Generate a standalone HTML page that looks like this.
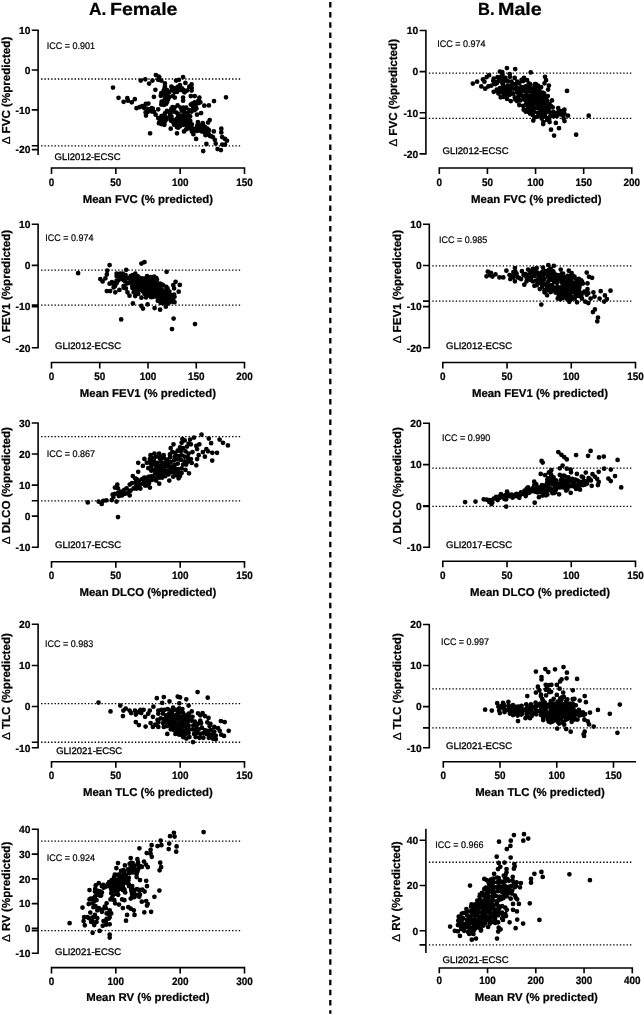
<!DOCTYPE html><html><head><meta charset="utf-8"><title>Figure</title><style>html,body{margin:0;padding:0;background:#fff}svg{display:block}text{font-family:"Liberation Sans",sans-serif;fill:#000;text-rendering:geometricPrecision}.b{font-weight:bold}.tk,.tx,.ax,.ay,.h{stroke:#000;stroke-width:.22px}.tk{font-weight:bold;font-size:10.3px}.tx{font-weight:bold;font-size:10.8px}.ax{font-weight:bold;font-size:11.4px}.ay{font-weight:bold;font-size:11.6px}.g{font-size:9.6px;stroke:#000;stroke-width:.32px}.i{font-size:9.6px;stroke:#000;stroke-width:.2px}.h{font-weight:bold;font-size:17.5px}.l{stroke:#000;stroke-width:1.6;fill:none}.d{stroke:#000;stroke-width:1.3;stroke-dasharray:1.4 1.95;fill:none}</style></head><body>
<svg width="644" height="1015" viewBox="0 0 644 1015">
<rect width="644" height="1015" fill="#fff"/>
<line x1="330.3" y1="1.9" x2="330.3" y2="1013.8" stroke="#000" stroke-width="2.3" stroke-dasharray="5.5 4.685"/>
<text class="h" y="15.1"><tspan x="89" textLength="17.3" lengthAdjust="spacingAndGlyphs">A.</tspan> <tspan x="110" textLength="67.5" lengthAdjust="spacingAndGlyphs">Female</tspan></text>
<text class="h" y="15.1"><tspan x="478" textLength="16.5" lengthAdjust="spacingAndGlyphs">B.</tspan> <tspan x="498" textLength="43.8" lengthAdjust="spacingAndGlyphs">Male</tspan></text>
<g>
<path class="l" d="M38.10 29.50V155.00M31.80 30.30H38.10M31.80 70.07H38.10M31.80 109.83H38.10M31.80 149.60H38.10M31.80 145.82H38.10M50.70 168.00H245.30M51.50 168.00V174.00M115.83 168.00V174.00M180.17 168.00V174.00M244.50 168.00V174.00"/>
<path class="d" d="M41.10 79.01H241.60"/>
<path class="d" d="M41.10 145.82H241.60"/>
<text class="tk" text-anchor="end" x="30.50" y="34.10">10</text>
<text class="tk" text-anchor="end" x="30.50" y="73.87">0</text>
<text class="tk" text-anchor="end" x="30.50" y="113.63">-10</text>
<text class="tk" text-anchor="end" x="30.50" y="153.40">-20</text>
<text class="tx" text-anchor="middle" transform="translate(51.50 185.50) scale(.92 1)">0</text>
<text class="tx" text-anchor="middle" transform="translate(115.83 185.50) scale(.92 1)">50</text>
<text class="tx" text-anchor="middle" transform="translate(180.17 185.50) scale(.92 1)">100</text>
<text class="tx" text-anchor="middle" transform="translate(244.50 185.50) scale(.92 1)">150</text>
<text class="ay" text-anchor="middle" transform="translate(9.80 90.55) rotate(-90)"><tspan font-weight="normal">Δ</tspan> FVC (%predicted)</text>
<text class="ax" text-anchor="middle" x="147.90" y="202.60">Mean FVC (% predicted)</text>
<text class="i" x="46.80" y="48.90" textLength="48.2" lengthAdjust="spacingAndGlyphs">ICC = 0.901</text>
<text class="g" x="54.50" y="159.90" textLength="66" lengthAdjust="spacingAndGlyphs">GLI2012-ECSC</text>
<path d="M113.0 87.5h0M118.5 97.8h0M123.6 101.8h0M127.3 98.2h0M128.0 100.7h0M131.8 102.3h0M134.8 99.2h0M140.7 80.5h0M145.3 79.3h0M149.1 83.6h0M152.5 80.5h0M155.9 75.1h0M158.7 76.6h0M158.2 79.8h0M161.3 80.5h0M155.4 89.8h0M153.9 96.8h0M164.9 83.3h0M164.9 86.0h0M136.5 108.2h0M139.6 107.2h0M142.2 106.1h0M145.8 103.8h0M148.4 103.5h0M146.6 108.5h0M149.7 109.3h0M152.8 108.5h0M146.0 115.5h0M152.0 111.6h0M155.6 114.7h0M158.2 109.3h0M161.3 93.0h0M163.7 90.6h0M166.8 89.8h0M161.3 95.3h0M165.2 96.1h0M167.5 93.7h0M171.4 86.7h0M171.7 89.8h0M168.3 98.4h0M166.8 101.5h0M164.4 103.0h0M161.3 104.6h0M176.1 80.5h0M178.9 79.8h0M183.1 77.1h0M185.4 82.9h0M180.0 85.2h0M177.6 88.3h0M180.7 89.8h0M174.5 92.2h0M173.0 96.1h0M191.6 84.4h0M189.3 86.7h0M187.0 90.6h0M183.9 91.4h0M191.6 90.6h0M183.1 97.6h0M183.1 100.7h0M190.8 96.1h0M194.7 96.1h0M199.4 97.6h0M194.7 102.3h0M190.8 104.6h0M193.2 106.9h0M198.6 103.0h0M177.6 105.4h0M174.5 107.7h0M171.4 108.5h0M180.7 107.7h0M168.3 111.6h0M165.2 113.1h0M162.9 115.5h0M160.6 117.8h0M159.8 120.9h0M161.3 124.0h0M164.4 124.8h0M170.7 117.8h0M173.0 121.7h0M176.9 118.6h0M180.7 119.3h0M183.9 116.2h0M186.2 118.6h0M187.7 114.7h0M189.3 110.0h0M186.2 107.7h0M191.6 111.6h0M194.7 110.0h0M197.0 114.7h0M183.9 123.2h0M187.0 124.8h0M190.1 123.2h0M191.6 127.1h0M180.0 126.3h0M176.9 127.1h0M170.7 128.7h0M197.8 124.0h0M183.3 89.8h0M174.8 97.6h0M163.1 93.0h0M167.0 95.3h0M164.7 99.2h0M200.4 102.3h0M204.3 105.7h0M208.9 105.4h0M214.0 101.0h0M226.0 97.3h0M161.6 101.5h0M166.2 103.8h0M194.9 105.4h0M201.1 113.1h0M181.7 110.8h0M177.9 113.9h0M173.2 111.6h0M185.6 116.2h0M183.3 118.6h0M172.4 119.3h0M188.7 117.8h0M190.3 120.9h0M209.7 120.1h0M208.1 122.5h0M202.7 123.2h0M197.3 125.6h0M162.3 120.1h0M179.4 123.2h0M183.3 124.8h0M187.2 127.9h0M200.4 127.1h0M205.0 127.1h0M207.4 128.7h0M221.3 128.7h0M195.7 128.7h0M150.1 133.3h0M147.7 111.9h0M165.4 120.2h0M177.0 133.3h0M168.2 117.5h0M174.7 122.1h0M170.1 113.7h0M180.3 115.6h0M182.2 123.0h0M185.0 120.2h0M184.0 112.8h0M189.6 127.7h0M185.9 129.6h0M184.0 131.4h0M194.3 130.5h0M193.4 134.2h0M196.1 138.9h0M203.6 128.6h0M206.4 130.5h0M201.7 131.4h0M208.3 133.3h0M205.5 135.2h0M210.1 136.1h0M213.8 131.4h0M212.9 137.0h0M214.8 139.8h0M221.3 132.4h0M222.2 137.0h0M225.0 138.9h0M226.9 140.7h0M215.7 143.5h0M206.4 143.9h0M222.2 144.5h0M225.0 144.5h0M217.6 149.1h0M220.9 150.1h0M203.2 151.0h0M159.3 77.3h0M144.0 107.8h0M151.8 108.1h0M154.0 111.8h0M160.8 95.8h0M164.5 88.5h0M164.9 89.6h0M161.2 93.4h0M166.3 97.4h0M169.2 92.4h0M173.7 88.1h0M167.8 99.9h0M164.2 101.7h0M167.1 102.0h0M163.5 104.8h0M177.7 86.8h0M176.8 90.4h0M182.7 90.3h0M177.2 91.8h0M191.7 88.2h0M184.6 92.3h0M192.3 103.5h0M192.4 104.7h0M195.6 106.5h0M198.0 101.2h0M172.5 107.2h0M167.0 110.8h0M164.6 116.0h0M161.4 116.2h0M158.3 118.2h0M158.9 123.2h0M162.8 123.8h0M171.4 116.3h0M173.6 123.1h0M176.1 120.9h0M178.2 120.2h0M182.8 118.8h0M184.7 118.0h0M190.2 116.3h0M188.4 111.9h0M183.4 107.7h0M192.7 110.3h0M196.4 108.6h0M185.7 121.4h0M187.8 122.9h0M191.9 124.3h0M189.0 128.3h0M178.1 127.7h0M197.9 122.1h0M181.9 88.4h0M165.4 91.4h0M169.3 97.0h0M166.9 98.3h0M198.9 100.3h0M161.5 103.1h0M164.8 104.5h0M194.3 107.4h0M183.8 111.2h0M176.4 112.5h0M173.5 109.7h0M185.9 118.0h0M181.8 116.7h0M171.0 120.7h0M186.3 117.8h0M189.3 122.5h0M203.2 124.9h0M199.7 125.1h0M160.6 120.9h0M177.6 123.2h0M184.1 122.2h0M187.7 125.4h0M197.8 126.2h0M202.9 126.5h0M208.9 130.2h0M197.2 130.9h0M145.6 112.4h0M164.8 121.7h0M166.4 119.4h0M174.0 124.6h0M170.9 111.8h0M178.1 116.9h0M184.2 124.0h0M183.5 119.1h0M186.0 113.4h0M190.3 126.0h0M186.9 126.8h0M191.9 131.6h0M203.1 130.8h0M207.0 128.5h0M199.4 130.3h0M206.4 134.0h0M204.8 132.9h0M209.0 134.7h0M210.8 136.0h0" stroke="#000" stroke-width="4.75" stroke-linecap="round" fill="none"/>
</g>
<g>
<path class="l" d="M38.10 223.40V348.60M31.80 224.20H38.10M31.80 265.40H38.10M31.80 306.60H38.10M31.80 347.80H38.10M31.80 305.16H38.10M50.70 362.50H245.30M51.50 362.50V368.50M99.75 362.50V368.50M148.00 362.50V368.50M196.25 362.50V368.50M244.50 362.50V368.50"/>
<path class="d" d="M41.10 270.14H241.60"/>
<path class="d" d="M41.10 305.16H241.60"/>
<text class="tk" text-anchor="end" x="30.50" y="228.00">10</text>
<text class="tk" text-anchor="end" x="30.50" y="269.20">0</text>
<text class="tk" text-anchor="end" x="30.50" y="310.40">-10</text>
<text class="tk" text-anchor="end" x="30.50" y="351.60">-20</text>
<text class="tx" text-anchor="middle" transform="translate(51.50 380.00) scale(.92 1)">0</text>
<text class="tx" text-anchor="middle" transform="translate(99.75 380.00) scale(.92 1)">50</text>
<text class="tx" text-anchor="middle" transform="translate(148.00 380.00) scale(.92 1)">100</text>
<text class="tx" text-anchor="middle" transform="translate(196.25 380.00) scale(.92 1)">150</text>
<text class="tx" text-anchor="middle" transform="translate(244.50 380.00) scale(.92 1)">200</text>
<text class="ay" text-anchor="middle" transform="translate(9.80 286.60) rotate(-90)"><tspan font-weight="normal">Δ</tspan> FEV1 (%predicted)</text>
<text class="ax" text-anchor="middle" x="147.90" y="397.10">Mean FEV1 (% predicted)</text>
<text class="i" x="45.20" y="241.40" textLength="48.2" lengthAdjust="spacingAndGlyphs">ICC = 0.974</text>
<text class="g" x="55.00" y="348.90" textLength="66" lengthAdjust="spacingAndGlyphs">GLI2012-ECSC</text>
<path d="M78.1 273.2h0M109.6 265.1h0M107.3 270.5h0M106.8 274.4h0M100.3 279.1h0M102.6 281.4h0M105.4 278.3h0M109.6 283.7h0M111.9 282.2h0M106.8 291.0h0M110.1 291.0h0M116.6 273.6h0M116.6 276.0h0M120.5 275.2h0M122.8 273.6h0M126.2 269.8h0M141.4 263.5h0M144.5 262.0h0M166.6 271.8h0M115.0 283.0h0M116.6 280.6h0M119.7 278.3h0M115.0 286.1h0M115.3 292.3h0M119.4 289.9h0M123.6 286.1h0M125.9 288.4h0M127.5 292.3h0M129.5 295.7h0M125.1 276.7h0M128.2 278.3h0M130.6 276.0h0M133.7 275.2h0M125.1 281.4h0M128.2 283.0h0M131.3 280.6h0M133.7 279.1h0M136.8 278.3h0M139.1 277.5h0M142.2 278.3h0M145.3 278.3h0M147.6 277.5h0M150.7 279.1h0M154.6 278.3h0M157.0 279.8h0M134.4 283.0h0M137.5 283.7h0M140.7 282.2h0M143.8 283.0h0M146.9 282.2h0M150.0 283.0h0M153.1 283.0h0M156.2 283.0h0M132.1 286.1h0M135.2 287.6h0M138.3 286.8h0M141.4 286.1h0M144.5 286.8h0M147.6 286.1h0M150.7 286.8h0M153.9 286.1h0M157.0 285.3h0M160.1 283.7h0M163.2 285.3h0M166.3 286.8h0M135.2 291.5h0M138.3 290.7h0M141.4 289.9h0M144.5 290.7h0M147.6 289.9h0M150.7 290.7h0M153.9 289.9h0M157.0 289.2h0M160.1 288.4h0M135.2 296.1h0M138.3 293.8h0M141.4 297.7h0M144.5 293.8h0M147.6 294.6h0M150.7 293.8h0M153.9 293.8h0M157.0 293.0h0M160.1 292.3h0M163.2 291.5h0M166.3 292.3h0M169.4 291.5h0M146.9 296.1h0M157.0 296.9h0M160.1 296.1h0M163.2 295.4h0M166.3 296.1h0M169.4 295.4h0M160.1 299.3h0M163.2 300.0h0M166.3 299.3h0M169.4 300.0h0M163.2 303.1h0M166.3 304.7h0M169.4 302.4h0M132.9 303.4h0M141.4 305.9h0M143.0 308.6h0M147.6 304.4h0M154.6 308.1h0M160.1 309.7h0M121.2 319.4h0M155.4 284.4h0M175.6 281.8h0M179.8 284.9h0M173.3 285.2h0M174.1 288.3h0M178.7 291.7h0M152.3 287.5h0M155.4 288.3h0M161.6 289.8h0M164.8 290.6h0M151.6 292.2h0M160.9 293.7h0M164.0 293.7h0M153.1 296.8h0M159.3 297.6h0M162.4 297.6h0M165.5 297.6h0M171.7 295.3h0M174.1 294.5h0M157.8 300.7h0M161.6 301.5h0M164.8 302.3h0M167.9 300.7h0M173.3 298.4h0M172.5 301.5h0M173.6 318.6h0M195.0 324.0h0M172.0 329.0h0M113.0 283.6h0M118.0 274.4h0M120.3 273.5h0M121.2 274.9h0M116.6 283.3h0M118.3 280.6h0M121.8 279.0h0M113.6 287.4h0M123.8 287.7h0M125.6 275.0h0M130.2 278.5h0M132.5 275.0h0M135.3 273.7h0M123.9 280.3h0M126.8 283.6h0M131.0 282.7h0M135.2 278.6h0M136.9 279.9h0M137.6 276.0h0M141.3 280.2h0M144.1 279.6h0M147.1 276.0h0M150.8 277.1h0M154.2 276.7h0M156.4 278.2h0M134.1 281.5h0M138.0 285.5h0M142.5 282.8h0M145.4 283.6h0M147.7 280.2h0M151.1 281.4h0M154.3 284.1h0M154.9 281.5h0M132.4 288.1h0M133.8 288.5h0M138.1 288.7h0M139.7 285.1h0M144.1 284.6h0M146.8 287.5h0M150.1 285.3h0M155.1 287.4h0M159.2 285.3h0M161.7 284.3h0M161.3 285.0h0M167.5 288.4h0M133.7 292.3h0M136.9 289.6h0M142.9 291.4h0M146.4 290.4h0M148.4 291.5h0M152.4 290.5h0M154.8 291.5h0M157.3 287.6h0M160.5 286.4h0M137.2 292.5h0M145.7 292.9h0M148.2 292.7h0M149.1 293.7h0M155.6 294.8h0M156.6 294.8h0M160.6 290.4h0M161.9 292.5h0M168.3 292.7h0M169.1 293.3h0M146.0 297.4h0M155.7 295.3h0M158.1 296.0h0M162.2 293.5h0M167.3 294.5h0M170.3 297.3h0M161.1 301.2h0M164.7 301.5h0M167.0 301.1h0M169.2 301.8h0M164.8 302.1h0M165.8 306.7h0M167.8 303.6h0M153.9 283.1h0M151.3 289.2h0M153.3 288.0h0M160.1 290.5h0M163.3 292.0h0M153.1 293.5h0M159.4 293.4h0M164.7 295.5h0M151.1 297.2h0M161.2 297.2h0M160.6 296.5h0M166.4 296.1h0M173.1 296.9h0M173.2 296.3h0M159.4 299.5h0M160.5 302.8h0M165.8 303.5h0M168.2 302.5h0M174.5 296.8h0M174.5 302.2h0" stroke="#000" stroke-width="4.75" stroke-linecap="round" fill="none"/>
</g>
<g>
<path class="l" d="M38.10 422.20V548.00M31.80 423.00H38.10M31.80 454.05H38.10M31.80 485.10H38.10M31.80 516.15H38.10M31.80 547.20H38.10M31.80 500.78H38.10M50.70 561.80H245.30M51.50 561.80V567.80M115.83 561.80V567.80M180.17 561.80V567.80M244.50 561.80V567.80"/>
<path class="d" d="M41.10 436.66H241.60"/>
<path class="d" d="M41.10 500.78H241.60"/>
<text class="tk" text-anchor="end" x="30.50" y="426.80">30</text>
<text class="tk" text-anchor="end" x="30.50" y="457.85">20</text>
<text class="tk" text-anchor="end" x="30.50" y="488.90">10</text>
<text class="tk" text-anchor="end" x="30.50" y="519.95">0</text>
<text class="tk" text-anchor="end" x="30.50" y="551.00">-10</text>
<text class="tx" text-anchor="middle" transform="translate(51.50 579.30) scale(.92 1)">0</text>
<text class="tx" text-anchor="middle" transform="translate(115.83 579.30) scale(.92 1)">50</text>
<text class="tx" text-anchor="middle" transform="translate(180.17 579.30) scale(.92 1)">100</text>
<text class="tx" text-anchor="middle" transform="translate(244.50 579.30) scale(.92 1)">150</text>
<text class="ay" text-anchor="middle" transform="translate(9.80 485.70) rotate(-90)"><tspan font-weight="normal">Δ</tspan> DLCO (%predicted)</text>
<text class="ax" text-anchor="middle" x="147.90" y="596.40">Mean DLCO (%predicted)</text>
<text class="i" x="46.80" y="456.80" textLength="48.2" lengthAdjust="spacingAndGlyphs">ICC = 0.867</text>
<text class="g" x="55.00" y="548.40" textLength="66" lengthAdjust="spacingAndGlyphs">GLI2017-ECSC</text>
<path d="M87.8 502.4h0M98.6 501.6h0M101.7 503.9h0M103.3 500.8h0M106.4 500.3h0M111.8 500.0h0M113.4 496.9h0M112.6 494.6h0M116.5 501.6h0M118.0 517.1h0M114.9 487.6h0M117.3 484.5h0M118.0 488.4h0M114.9 493.8h0M118.0 493.0h0M121.1 491.5h0M118.8 496.1h0M121.9 495.4h0M124.3 489.9h0M126.6 488.4h0M125.0 493.8h0M128.1 493.0h0M129.7 495.4h0M129.7 484.5h0M132.0 483.0h0M130.5 490.7h0M133.6 488.4h0M135.9 486.1h0M132.8 476.0h0M135.1 478.3h0M138.2 471.8h0M138.2 462.8h0M135.9 482.2h0M139.0 480.6h0M142.1 479.1h0M139.8 484.5h0M142.9 483.7h0M139.0 487.6h0M142.9 465.9h0M144.4 458.9h0M146.0 477.5h0M149.1 476.7h0M152.2 476.0h0M146.0 481.4h0M149.1 483.0h0M149.9 487.6h0M146.8 485.3h0M152.2 479.8h0M155.3 478.3h0M158.4 476.7h0M156.1 480.6h0M159.2 483.7h0M146.8 462.8h0M149.9 461.2h0M148.3 468.2h0M151.4 465.9h0M153.0 469.8h0M150.7 457.3h0M153.8 459.7h0M156.1 456.6h0M154.5 464.3h0M157.6 462.8h0M160.7 461.2h0M156.9 467.4h0M160.0 465.9h0M157.6 471.3h0M160.7 469.8h0M163.9 468.2h0M155.3 473.6h0M158.4 474.4h0M161.5 473.6h0M164.6 472.1h0M167.7 470.5h0M162.3 477.5h0M165.4 476.0h0M163.9 458.1h0M167.0 459.7h0M170.1 457.3h0M164.6 463.5h0M167.7 464.3h0M170.8 462.0h0M173.9 460.4h0M177.0 458.9h0M171.6 466.6h0M174.7 465.1h0M177.8 463.5h0M169.3 480.6h0M168.5 474.4h0M171.6 472.1h0M174.7 470.5h0M177.8 469.0h0M173.2 476.7h0M176.3 475.2h0M179.4 474.4h0M178.6 478.3h0M160.7 456.6h0M174.7 456.6h0M201.5 434.5h0M194.0 437.6h0M190.1 439.6h0M182.4 439.2h0M184.7 440.4h0M181.6 442.8h0M208.8 438.6h0M211.1 443.2h0M219.6 439.6h0M223.0 442.8h0M227.9 445.4h0M173.5 444.3h0M170.7 448.2h0M188.6 443.5h0M190.9 444.3h0M187.0 446.6h0M196.3 445.9h0M199.4 444.3h0M197.1 449.0h0M206.4 449.0h0M208.0 451.3h0M202.9 452.1h0M212.3 452.8h0M217.0 452.8h0M204.9 456.7h0M198.7 455.2h0M197.1 459.1h0M212.2 460.6h0M192.5 452.1h0M188.6 453.6h0M185.5 451.3h0M180.0 447.4h0M183.1 448.2h0M180.8 451.3h0M177.7 450.5h0M175.4 452.8h0M172.3 452.1h0M169.9 454.4h0M178.5 456.0h0M181.6 455.2h0M184.7 456.7h0M187.8 457.5h0M190.9 459.1h0M191.7 462.9h0M188.6 461.4h0M196.3 465.3h0M150.5 455.2h0M154.4 453.6h0M159.1 453.6h0M163.7 455.2h0M149.8 459.1h0M152.9 458.3h0M159.8 458.3h0M150.5 462.9h0M154.4 462.2h0M162.2 462.9h0M166.1 462.2h0M180.8 459.8h0M184.7 461.4h0M186.2 464.5h0M183.1 464.5h0M156.0 466.0h0M163.7 466.0h0M167.6 466.0h0M151.3 470.7h0M155.2 469.9h0M163.0 469.9h0M170.7 469.1h0M174.6 468.4h0M181.6 468.4h0M185.5 469.9h0M189.0 473.3h0M166.8 473.8h0M174.6 472.3h0M178.5 472.3h0M181.6 473.0h0M144.3 477.7h0M159.8 477.7h0M180.0 476.1h0M136.6 479.2h0M144.3 481.6h0M148.2 480.8h0M137.3 483.9h0M145.1 485.5h0M136.6 488.6h0M140.4 488.6h0" stroke="#000" stroke-width="4.75" stroke-linecap="round" fill="none"/>
</g>
<g>
<path class="l" d="M38.10 623.50V748.50M31.80 624.30H38.10M31.80 665.43H38.10M31.80 706.57H38.10M31.80 747.70H38.10M31.80 742.23H38.10M50.70 761.80H245.30M51.50 761.80V767.80M115.83 761.80V767.80M180.17 761.80V767.80M244.50 761.80V767.80"/>
<path class="d" d="M41.10 703.56H241.60"/>
<path class="d" d="M41.10 742.23H241.60"/>
<text class="tk" text-anchor="end" x="30.50" y="628.10">20</text>
<text class="tk" text-anchor="end" x="30.50" y="669.23">10</text>
<text class="tk" text-anchor="end" x="30.50" y="710.37">0</text>
<text class="tk" text-anchor="end" x="30.50" y="751.50">-10</text>
<text class="tx" text-anchor="middle" transform="translate(51.50 779.30) scale(.92 1)">0</text>
<text class="tx" text-anchor="middle" transform="translate(115.83 779.30) scale(.92 1)">50</text>
<text class="tx" text-anchor="middle" transform="translate(180.17 779.30) scale(.92 1)">100</text>
<text class="tx" text-anchor="middle" transform="translate(244.50 779.30) scale(.92 1)">150</text>
<text class="ay" text-anchor="middle" transform="translate(9.80 686.60) rotate(-90)"><tspan font-weight="normal">Δ</tspan> TLC (%predicted)</text>
<text class="ax" text-anchor="middle" x="147.90" y="796.40">Mean TLC (% predicted)</text>
<text class="i" x="45.00" y="646.50" textLength="48.2" lengthAdjust="spacingAndGlyphs">ICC = 0.983</text>
<text class="g" x="56.20" y="753.70" textLength="66" lengthAdjust="spacingAndGlyphs">GLI2021-ECSC</text>
<path d="M98.5 702.5h0M110.5 711.4h0M120.3 705.5h0M123.4 710.6h0M125.7 708.6h0M122.9 716.1h0M129.6 710.6h0M131.1 713.0h0M135.0 710.6h0M135.8 714.5h0M138.1 712.2h0M140.5 709.8h0M141.2 713.0h0M143.6 709.8h0M145.1 716.8h0M148.2 713.7h0M149.8 710.6h0M153.4 706.7h0M152.9 716.8h0M135.8 722.0h0M138.9 725.1h0M145.6 726.6h0M150.6 723.0h0M152.9 726.9h0M155.2 724.6h0M158.3 726.9h0M156.8 698.2h0M163.8 697.1h0M162.2 702.9h0M169.5 701.3h0M177.7 696.6h0M180.1 697.4h0M186.3 699.3h0M179.3 703.3h0M158.3 710.6h0M161.4 709.8h0M158.3 713.7h0M164.5 709.8h0M167.6 709.1h0M170.7 710.6h0M173.1 707.5h0M163.0 713.7h0M166.1 715.3h0M169.2 713.7h0M172.3 714.5h0M157.5 719.9h0M160.7 718.4h0M163.8 719.2h0M166.9 718.4h0M158.3 722.3h0M176.2 709.8h0M179.3 708.3h0M182.4 709.1h0M180.1 712.2h0M183.2 713.0h0M175.4 715.3h0M178.5 716.1h0M181.6 716.8h0M184.7 715.3h0M188.6 713.7h0M170.0 717.6h0M173.1 718.4h0M176.2 719.2h0M179.3 719.9h0M182.4 720.7h0M185.5 718.4h0M188.6 717.6h0M163.0 723.0h0M166.1 722.3h0M169.2 721.5h0M172.3 722.3h0M175.4 723.0h0M178.5 723.8h0M181.6 723.8h0M184.7 722.3h0M187.8 721.5h0M163.8 726.9h0M166.9 726.1h0M170.0 725.4h0M173.1 726.1h0M176.2 726.9h0M179.3 727.7h0M182.4 726.9h0M185.5 726.1h0M188.6 725.4h0M167.3 733.9h0M170.7 729.3h0M173.9 730.0h0M177.0 730.8h0M180.1 731.6h0M183.2 730.8h0M186.3 730.0h0M189.4 729.3h0M175.4 733.9h0M179.3 734.7h0M182.4 735.5h0M185.5 733.9h0M188.6 733.1h0M186.3 738.6h0M183.2 737.0h0M197.6 692.0h0M207.7 697.7h0M188.6 705.5h0M172.3 711.4h0M177.8 712.2h0M191.7 711.4h0M198.0 713.3h0M202.6 713.0h0M200.3 715.3h0M204.9 716.1h0M208.5 717.9h0M220.9 721.0h0M224.7 722.0h0M228.7 730.8h0M186.3 716.8h0M189.4 716.1h0M192.5 716.8h0M171.6 719.9h0M174.7 719.9h0M185.5 720.7h0M188.6 719.9h0M191.7 720.7h0M194.8 721.5h0M200.3 720.7h0M201.1 723.0h0M198.0 723.8h0M207.3 722.3h0M210.4 723.8h0M209.6 726.1h0M214.3 726.9h0M218.1 728.2h0M219.7 730.8h0M172.3 724.6h0M186.3 724.6h0M193.3 725.4h0M196.4 726.1h0M181.6 729.3h0M192.5 729.3h0M195.6 730.0h0M198.7 729.3h0M201.8 727.7h0M204.9 730.0h0M208.0 730.8h0M211.1 730.0h0M214.3 731.6h0M183.2 733.9h0M194.1 733.9h0M197.2 733.1h0M200.3 733.9h0M203.4 733.1h0M206.5 733.9h0M209.6 734.7h0M212.7 734.7h0M215.8 735.5h0M221.2 734.7h0M224.0 735.9h0M189.4 737.0h0M195.6 737.0h0M199.5 737.8h0M203.4 737.8h0M208.8 737.8h0M212.7 738.6h0M215.8 739.3h0M193.0 742.1h0" stroke="#000" stroke-width="4.75" stroke-linecap="round" fill="none"/>
</g>
<g>
<path class="l" d="M38.10 828.50V954.00M31.80 829.30H38.10M31.80 854.08H38.10M31.80 878.86H38.10M31.80 903.64H38.10M31.80 928.42H38.10M31.80 953.20H38.10M31.80 930.65H38.10M50.70 967.60H245.30M51.50 967.60V973.60M115.83 967.60V973.60M180.17 967.60V973.60M244.50 967.60V973.60"/>
<path class="d" d="M41.10 841.07H241.60"/>
<path class="d" d="M41.10 930.65H241.60"/>
<text class="tk" text-anchor="end" x="30.50" y="833.10">40</text>
<text class="tk" text-anchor="end" x="30.50" y="857.88">30</text>
<text class="tk" text-anchor="end" x="30.50" y="882.66">20</text>
<text class="tk" text-anchor="end" x="30.50" y="907.44">10</text>
<text class="tk" text-anchor="end" x="30.50" y="932.22">0</text>
<text class="tk" text-anchor="end" x="30.50" y="957.00">-10</text>
<text class="tx" text-anchor="middle" transform="translate(51.50 984.70) scale(.92 1)">0</text>
<text class="tx" text-anchor="middle" transform="translate(115.83 984.70) scale(.92 1)">100</text>
<text class="tx" text-anchor="middle" transform="translate(180.17 984.70) scale(.92 1)">200</text>
<text class="tx" text-anchor="middle" transform="translate(244.50 984.70) scale(.92 1)">300</text>
<text class="ay" text-anchor="middle" transform="translate(9.80 891.85) rotate(-90)"><tspan font-weight="normal">Δ</tspan> RV (%predicted)</text>
<text class="ax" text-anchor="middle" x="147.90" y="1001.10">Mean RV (% predicted)</text>
<text class="i" x="46.80" y="860.50" textLength="48.2" lengthAdjust="spacingAndGlyphs">ICC = 0.924</text>
<text class="g" x="55.00" y="954.90" textLength="66" lengthAdjust="spacingAndGlyphs">GLI2021-ECSC</text>
<path d="M69.6 923.2h0M82.5 907.6h0M84.1 917.0h0M83.6 921.1h0M84.8 925.3h0M89.5 890.1h0M89.5 899.4h0M88.7 904.1h0M90.3 912.6h0M88.7 918.0h0M91.1 921.9h0M92.6 898.6h0M92.6 903.3h0M93.4 907.2h0M92.6 917.3h0M94.9 914.9h0M97.3 918.0h0M96.5 921.9h0M94.2 925.0h0M92.6 932.8h0M99.6 930.9h0M109.7 934.7h0M109.7 937.5h0M95.7 885.4h0M98.8 883.1h0M94.9 891.6h0M98.0 890.9h0M96.5 894.8h0M99.6 894.0h0M101.9 892.4h0M101.1 895.5h0M96.5 900.2h0M98.8 908.0h0M97.3 910.3h0M101.9 911.8h0M105.8 908.0h0M109.7 910.3h0M106.6 913.4h0M111.2 913.4h0M106.6 903.3h0M101.9 886.2h0M105.0 887.0h0M108.1 886.2h0M109.7 917.3h0M106.6 918.8h0M103.5 921.1h0M105.8 921.9h0M102.7 925.8h0M109.7 924.3h0M111.2 889.3h0M111.2 893.2h0M112.8 895.5h0M110.5 899.4h0M114.3 900.2h0M115.1 903.3h0M119.0 904.5h0M122.9 908.0h0M122.1 899.4h0M124.4 900.2h0M128.3 907.2h0M130.7 908.7h0M133.8 910.3h0M127.1 914.9h0M126.0 920.7h0M134.5 914.9h0M114.3 883.1h0M117.5 882.3h0M120.6 883.1h0M123.7 882.3h0M126.8 883.1h0M113.6 887.0h0M116.7 887.0h0M119.8 887.0h0M122.9 886.2h0M114.3 890.9h0M117.5 891.6h0M118.2 894.8h0M124.4 889.3h0M125.2 892.4h0M129.1 886.2h0M132.2 886.2h0M131.4 890.9h0M134.5 890.1h0M137.6 889.3h0M140.0 890.1h0M133.8 893.2h0M136.1 894.8h0M130.7 898.6h0M134.5 897.1h0M140.0 894.8h0M144.6 891.6h0M147.0 886.2h0M141.8 901.7h0M146.2 901.0h0M147.7 904.1h0M147.0 905.6h0M144.3 912.3h0M151.1 911.8h0M154.4 896.8h0M159.4 890.6h0M146.2 880.8h0M140.0 880.0h0M173.9 832.8h0M174.6 836.6h0M170.0 836.2h0M160.7 840.5h0M161.4 845.2h0M157.5 846.0h0M169.2 843.6h0M168.7 849.1h0M176.6 846.4h0M176.2 851.7h0M151.6 845.2h0M150.6 849.8h0M146.7 853.0h0M150.6 853.7h0M151.8 856.8h0M139.4 848.3h0M130.7 858.1h0M137.4 859.2h0M138.1 862.3h0M144.0 861.5h0M145.9 864.6h0M147.8 867.2h0M160.2 862.7h0M161.1 867.2h0M159.6 870.3h0M118.0 863.0h0M116.4 868.2h0M124.9 865.4h0M129.6 863.8h0M132.7 863.0h0M134.3 866.1h0M140.5 866.1h0M138.1 869.3h0M121.1 870.8h0M124.2 871.6h0M128.0 869.3h0M131.1 868.5h0M135.0 870.0h0M114.8 874.7h0M118.7 874.7h0M121.8 875.5h0M125.7 874.7h0M129.6 873.1h0M132.7 872.4h0M136.6 873.9h0M136.6 877.0h0M111.7 880.1h0M114.8 879.3h0M118.7 879.3h0M121.8 879.3h0M125.7 878.6h0M128.8 877.8h0M111.0 884.0h0M103.2 884.8h0M203.6 832.0h0M133.1 895.6h0M87.3 917.1h0M92.6 922.1h0M90.8 898.7h0M93.9 901.6h0M95.5 906.2h0M92.1 919.6h0M94.3 916.7h0M95.2 888.9h0M99.1 892.6h0M95.0 896.7h0M100.0 895.7h0M99.9 891.4h0M98.8 894.9h0M98.9 908.9h0M102.4 909.6h0M104.8 906.6h0M109.2 914.7h0M107.8 884.0h0M108.8 918.5h0M106.3 924.5h0M112.7 888.9h0M111.7 898.0h0M114.7 885.8h0M115.6 880.1h0M123.0 883.1h0M123.5 880.0h0M126.3 881.5h0M111.9 887.6h0M116.8 884.7h0M119.3 888.9h0M122.1 888.8h0M115.8 891.7h0M116.8 894.1h0M122.8 890.0h0M128.7 884.1h0M131.2 889.3h0M137.0 889.0h0M139.4 890.8h0M142.3 889.6h0M132.4 895.5h0M134.1 895.2h0M131.7 897.8h0M139.2 896.8h0M137.5 864.1h0M131.2 862.8h0M130.6 863.1h0M132.7 867.2h0M141.8 866.9h0M138.7 867.9h0M123.0 870.5h0M123.4 870.0h0M130.2 868.1h0M131.3 866.7h0M133.2 870.4h0M116.3 874.8h0M119.4 875.9h0M124.0 873.3h0M129.0 871.2h0M133.5 870.0h0M137.4 871.4h0M114.1 877.1h0M117.4 880.5h0M120.6 876.8h0M124.0 877.1h0M128.4 880.3h0M109.1 882.2h0M103.7 887.7h0M132.0 894.0h0" stroke="#000" stroke-width="4.75" stroke-linecap="round" fill="none"/>
</g>
<g>
<path class="l" d="M425.90 29.70V154.70M419.60 30.50H425.90M419.60 71.63H425.90M419.60 112.77H425.90M419.60 153.90H425.90M419.60 118.32H425.90M438.50 168.00H632.60M439.30 168.00V174.00M487.43 168.00V174.00M535.55 168.00V174.00M583.67 168.00V174.00M631.80 168.00V174.00"/>
<path class="d" d="M428.90 73.11H632.90"/>
<path class="d" d="M428.90 118.32H632.90"/>
<text class="tk" text-anchor="end" x="418.30" y="34.30">10</text>
<text class="tk" text-anchor="end" x="418.30" y="75.43">0</text>
<text class="tk" text-anchor="end" x="418.30" y="116.57">-10</text>
<text class="tk" text-anchor="end" x="418.30" y="157.70">-20</text>
<text class="tx" text-anchor="middle" transform="translate(439.30 185.50) scale(.92 1)">0</text>
<text class="tx" text-anchor="middle" transform="translate(487.43 185.50) scale(.92 1)">50</text>
<text class="tx" text-anchor="middle" transform="translate(535.55 185.50) scale(.92 1)">100</text>
<text class="tx" text-anchor="middle" transform="translate(583.67 185.50) scale(.92 1)">150</text>
<text class="tx" text-anchor="middle" transform="translate(631.80 185.50) scale(.92 1)">200</text>
<text class="ay" text-anchor="middle" transform="translate(396.60 92.80) rotate(-90)"><tspan font-weight="normal">Δ</tspan> FVC (%predicted)</text>
<text class="ax" text-anchor="middle" x="536.30" y="202.60">Mean FVC (% predicted)</text>
<text class="i" x="437.20" y="46.50" textLength="48.2" lengthAdjust="spacingAndGlyphs">ICC = 0.974</text>
<text class="g" x="442.50" y="154.20" textLength="66" lengthAdjust="spacingAndGlyphs">GLI2012-ECSC</text>
<path d="M472.8 83.6h0M477.1 81.7h0M481.3 86.4h0M482.9 79.4h0M484.4 81.7h0M485.2 88.7h0M486.7 77.1h0M489.1 75.2h0M488.3 86.4h0M491.4 85.6h0M494.5 83.3h0M493.7 78.6h0M499.9 71.6h0M502.3 72.1h0M506.9 68.1h0M515.2 69.0h0M530.7 72.4h0M497.6 77.1h0M501.5 76.3h0M505.4 77.9h0M510.0 76.8h0M514.7 77.9h0M498.4 81.0h0M503.0 80.2h0M507.7 81.0h0M511.6 81.7h0M493.7 91.8h0M496.8 89.5h0M499.9 88.0h0M503.8 87.2h0M507.7 85.6h0M511.6 85.6h0M515.5 84.1h0M519.3 83.3h0M524.0 77.9h0M523.2 81.0h0M527.1 80.2h0M528.7 83.3h0M534.9 84.1h0M538.0 85.6h0M541.1 87.2h0M545.0 76.8h0M546.1 80.2h0M544.5 83.3h0M548.9 85.6h0M548.1 89.5h0M500.7 97.3h0M498.4 93.4h0M502.3 92.6h0M506.1 91.1h0M510.0 90.3h0M513.9 88.7h0M517.8 88.0h0M521.7 87.2h0M525.6 86.4h0M529.4 87.2h0M533.3 88.0h0M506.9 98.8h0M510.8 101.1h0M505.4 94.9h0M509.3 94.9h0M513.1 93.4h0M517.0 92.6h0M520.9 91.8h0M524.8 91.1h0M528.7 91.1h0M532.5 91.8h0M536.4 91.1h0M539.5 91.8h0M542.6 92.6h0M514.7 97.3h0M518.6 96.5h0M522.5 95.7h0M526.3 94.9h0M530.2 95.7h0M534.1 95.7h0M538.0 95.7h0M541.9 96.5h0M545.7 97.3h0M517.0 101.1h0M520.1 100.4h0M524.0 99.6h0M527.9 99.6h0M531.8 99.6h0M535.7 99.6h0M539.5 100.4h0M543.4 100.4h0M547.3 101.1h0M552.0 100.4h0M519.3 105.0h0M523.2 105.8h0M526.3 103.5h0M530.2 104.3h0M534.1 103.5h0M538.0 104.3h0M541.9 104.3h0M545.7 105.0h0M549.6 104.3h0M523.7 109.7h0M529.4 107.4h0M533.3 108.1h0M537.2 108.1h0M541.1 108.1h0M545.0 108.9h0M548.9 108.1h0M552.7 107.4h0M558.2 108.1h0M529.9 113.6h0M534.1 112.0h0M538.0 112.8h0M541.9 112.8h0M545.7 112.8h0M549.6 112.0h0M553.5 112.0h0M557.4 112.8h0M562.0 111.2h0M564.4 109.7h0M533.3 120.6h0M537.2 116.7h0M541.1 115.9h0M545.0 116.7h0M550.4 115.9h0M555.1 115.9h0M560.5 114.3h0M543.4 122.1h0M547.3 119.8h0M549.6 122.1h0M555.8 122.9h0M563.6 118.2h0M528.7 112.0h0M567.0 90.9h0M588.7 115.7h0M576.1 134.7h0M554.1 135.5h0M551.0 129.7h0M559.0 128.2h0M543.2 124.1h0M564.5 121.0h0M568.0 115.7h0M562.6 113.7h0M553.3 116.1h0M531.6 89.7h0M539.3 93.5h0M543.2 95.1h0M546.3 99.0h0M535.4 96.6h0M539.3 98.2h0M531.6 101.3h0M535.4 102.1h0M539.3 102.9h0M531.6 106.7h0M535.4 107.5h0M539.3 108.3h0M543.2 109.8h0M532.3 112.2h0M544.0 114.5h0M497.0 82.2h0M502.4 83.3h0M497.0 82.9h0M493.2 80.8h0M498.6 78.6h0M502.5 74.2h0M503.9 77.6h0M509.7 74.0h0M498.7 79.0h0M504.4 78.5h0M505.0 81.0h0M511.6 84.2h0M500.7 90.6h0M503.7 88.9h0M507.2 87.3h0M511.7 88.0h0M517.8 83.0h0M517.2 81.5h0M521.6 79.8h0M530.0 84.2h0M535.8 84.2h0M539.4 89.3h0M497.8 91.4h0M502.3 90.0h0M505.6 93.3h0M510.9 88.9h0M515.7 88.4h0M519.0 89.6h0M521.6 89.2h0M525.1 88.0h0M528.5 88.6h0M534.6 85.4h0M503.3 96.8h0M508.6 92.7h0M511.2 93.7h0M517.3 90.4h0M518.7 93.2h0M526.4 88.9h0M526.3 90.4h0M534.5 94.0h0M536.6 88.5h0M540.0 94.5h0M544.1 93.3h0M515.3 99.6h0M520.7 94.4h0M523.6 97.5h0M526.3 96.7h0M532.6 95.8h0M535.8 94.6h0M536.5 96.5h0M543.5 95.8h0M547.8 96.1h0M519.0 100.1h0M518.3 98.4h0M526.2 100.5h0M526.7 101.0h0M533.1 101.8h0M533.8 99.4h0M541.0 97.9h0M541.7 101.6h0M544.4 101.1h0M527.3 105.5h0M527.6 104.1h0M532.5 105.7h0M538.9 106.0h0M543.6 105.7h0M546.8 102.3h0M548.1 104.7h0M527.8 108.8h0M531.7 110.5h0M538.2 106.7h0M542.8 107.8h0M544.2 110.2h0M547.2 109.4h0M551.0 106.0h0M532.3 110.9h0M539.6 113.7h0M540.6 113.8h0M547.6 110.9h0M547.6 111.1h0M554.7 113.1h0M558.9 110.8h0M560.0 113.2h0M534.5 117.5h0M541.8 118.5h0M543.0 116.5h0M548.4 117.8h0M557.1 115.8h0M562.2 114.8h0M549.2 118.9h0M563.2 115.5h0M525.7 111.7h0M564.3 113.3h0M553.5 114.5h0M530.7 91.1h0M541.8 93.4h0M541.2 93.2h0M545.1 100.3h0M536.4 95.2h0M541.5 99.8h0M530.2 102.1h0M537.9 102.2h0M538.2 104.7h0M533.3 107.9h0M533.6 107.5h0M540.8 109.8h0M541.2 112.0h0M532.7 115.1h0M543.6 116.4h0M495.4 84.1h0M503.1 85.3h0" stroke="#000" stroke-width="4.75" stroke-linecap="round" fill="none"/>
</g>
<g>
<path class="l" d="M429.30 223.50V348.60M423.00 224.30H429.30M423.00 265.47H429.30M423.00 306.63H429.30M423.00 347.80H429.30M423.00 301.12H429.30M442.00 362.50H636.30M442.80 362.50V368.50M507.03 362.50V368.50M571.27 362.50V368.50M635.50 362.50V368.50"/>
<path class="d" d="M432.30 265.96H632.90"/>
<path class="d" d="M432.30 301.12H632.90"/>
<text class="tk" text-anchor="end" x="421.70" y="228.10">10</text>
<text class="tk" text-anchor="end" x="421.70" y="269.27">0</text>
<text class="tk" text-anchor="end" x="421.70" y="310.43">-10</text>
<text class="tk" text-anchor="end" x="421.70" y="351.60">-20</text>
<text class="tx" text-anchor="middle" transform="translate(442.80 380.00) scale(.92 1)">0</text>
<text class="tx" text-anchor="middle" transform="translate(507.03 380.00) scale(.92 1)">50</text>
<text class="tx" text-anchor="middle" transform="translate(571.27 380.00) scale(.92 1)">100</text>
<text class="tx" text-anchor="middle" transform="translate(635.50 380.00) scale(.92 1)">150</text>
<text class="ay" text-anchor="middle" transform="translate(401.00 286.65) rotate(-90)"><tspan font-weight="normal">Δ</tspan> FEV1 (%predicted)</text>
<text class="ax" text-anchor="middle" x="540.00" y="397.10">Mean FEV1 (% predicted)</text>
<text class="i" x="439.10" y="243.30" textLength="48.2" lengthAdjust="spacingAndGlyphs">ICC = 0.985</text>
<text class="g" x="446.00" y="348.90" textLength="66" lengthAdjust="spacingAndGlyphs">GLI2012-ECSC</text>
<path d="M486.5 276.3h0M487.8 271.7h0M490.9 272.8h0M492.4 276.6h0M495.5 274.3h0M499.4 277.4h0M503.3 277.4h0M506.4 270.7h0M509.5 275.1h0M510.3 279.0h0M514.9 268.1h0M513.4 272.0h0M516.5 273.5h0M514.9 281.3h0M513.4 277.4h0M518.0 277.4h0M521.9 271.2h0M523.5 275.1h0M521.1 279.0h0M524.3 284.7h0M526.6 281.3h0M528.1 269.6h0M530.5 272.8h0M526.6 277.4h0M532.8 268.9h0M536.7 268.1h0M535.1 272.0h0M531.2 277.4h0M534.3 275.9h0M532.8 281.3h0M535.9 280.5h0M542.9 267.6h0M542.1 272.0h0M548.3 265.0h0M553.8 265.8h0M550.7 268.9h0M547.5 272.0h0M551.4 273.5h0M541.3 304.6h0M539.0 273.5h0M539.8 277.4h0M538.2 281.3h0M536.7 285.2h0M539.8 289.1h0M543.7 275.1h0M544.4 279.0h0M542.9 282.8h0M542.1 286.7h0M544.4 290.6h0M547.1 295.3h0M548.3 276.6h0M549.1 280.5h0M547.5 284.4h0M546.8 288.3h0M549.9 290.6h0M553.0 277.4h0M553.8 281.3h0M552.2 285.2h0M553.0 289.1h0M557.6 275.1h0M558.4 279.0h0M556.9 282.8h0M557.6 286.7h0M556.9 290.6h0M560.7 269.6h0M563.1 273.5h0M562.3 278.2h0M561.5 282.1h0M562.3 286.0h0M561.5 289.8h0M560.7 294.5h0M568.8 270.7h0M571.6 273.2h0M567.7 275.9h0M567.0 279.7h0M566.2 283.6h0M567.0 287.5h0M566.2 291.4h0M565.4 295.3h0M572.4 277.4h0M571.6 281.3h0M570.8 285.2h0M571.6 289.1h0M570.8 292.9h0M570.1 296.8h0M569.3 301.8h0M576.3 279.7h0M576.3 283.6h0M575.5 287.5h0M576.3 291.4h0M575.5 295.3h0M574.7 298.4h0M579.4 282.8h0M579.4 287.5h0M579.4 292.2h0M579.4 296.0h0M577.0 302.3h0M563.9 296.8h0M560.7 297.6h0M554.5 273.5h0M556.1 278.2h0M586.7 272.6h0M589.0 276.8h0M592.1 277.8h0M587.5 283.4h0M578.9 278.8h0M582.0 281.4h0M610.5 290.7h0M600.7 291.2h0M604.9 295.4h0M606.9 299.0h0M604.2 301.6h0M599.6 298.5h0M593.4 292.3h0M594.5 296.5h0M590.6 298.5h0M587.5 289.2h0M588.3 293.1h0M584.4 291.5h0M581.3 295.4h0M582.0 298.5h0M585.1 301.6h0M588.3 303.1h0M594.9 309.4h0M592.9 312.0h0M598.0 317.6h0M597.3 321.3h0M545.6 273.6h0M549.4 274.4h0M553.3 275.2h0M557.2 276.8h0M565.0 279.1h0M568.8 278.3h0M568.8 283.0h0M572.7 283.0h0M545.6 284.5h0M549.4 285.3h0M561.1 287.6h0M565.0 288.4h0M568.8 287.6h0M572.7 287.6h0M547.1 290.0h0M554.9 290.7h0M558.8 291.5h0M562.6 292.3h0M566.5 293.1h0M574.3 292.3h0M578.9 289.2h0M558.8 295.4h0M566.5 296.9h0M560.3 299.3h0M567.3 299.3h0M571.2 299.3h0M490.0 275.0h0M511.0 276.2h0M515.4 271.5h0M514.1 274.9h0M512.9 275.6h0M516.6 275.4h0M525.3 274.0h0M519.2 278.1h0M531.7 270.6h0M527.2 274.8h0M532.8 270.7h0M537.6 272.7h0M528.7 277.3h0M533.6 274.3h0M530.9 280.1h0M537.9 279.4h0M542.4 273.6h0M548.6 270.2h0M545.6 271.1h0M549.1 273.2h0M538.9 275.2h0M538.7 276.1h0M538.2 283.4h0M534.4 285.8h0M545.3 273.9h0M542.3 279.7h0M540.4 282.0h0M542.4 284.1h0M544.5 292.3h0M547.8 274.7h0M550.1 278.5h0M547.5 282.5h0M547.8 290.3h0M550.8 292.0h0M552.7 280.0h0M556.3 280.7h0M550.7 286.2h0M551.1 288.0h0M555.2 275.7h0M560.3 279.5h0M554.4 281.5h0M555.3 287.8h0M558.1 292.0h0M561.6 274.2h0M562.4 280.0h0M563.5 284.3h0M560.6 288.2h0M559.2 291.4h0M558.7 294.4h0M572.1 274.8h0M569.1 277.4h0M566.8 277.8h0M564.1 282.9h0M568.8 287.6h0M567.9 292.4h0M564.1 296.1h0M574.5 276.7h0M569.8 280.5h0M568.5 284.8h0M570.7 290.4h0M568.6 293.1h0M568.5 296.0h0M570.0 300.2h0M577.9 279.6h0M574.1 283.7h0M574.3 289.8h0M577.4 289.2h0M577.0 294.2h0M573.2 297.4h0M577.9 284.6h0M579.6 285.6h0M577.9 291.8h0M576.5 296.1h0M564.2 295.1h0M562.8 297.9h0M553.3 271.4h0M554.1 279.9h0M580.9 280.2h0M582.9 283.5h0M586.8 294.7h0M582.6 292.8h0M579.3 294.8h0M543.6 274.1h0M547.9 272.4h0M553.5 277.2h0M559.6 277.0h0M564.4 277.1h0M570.4 279.1h0M570.0 280.5h0M572.0 284.3h0M547.2 284.2h0M550.3 286.7h0M559.8 289.1h0M567.8 287.6h0M567.1 289.9h0M571.4 289.9h0M545.4 290.3h0M555.5 292.6h0M561.2 291.7h0M564.6 292.0h0M566.4 290.7h0M572.3 291.3h0M578.3 291.2h0M559.7 293.2h0M568.6 297.4h0M557.7 298.4h0M566.7 297.9h0M572.1 297.5h0" stroke="#000" stroke-width="4.75" stroke-linecap="round" fill="none"/>
</g>
<g>
<path class="l" d="M429.30 422.50V548.00M423.00 423.30H429.30M423.00 464.60H429.30M423.00 505.90H429.30M423.00 547.20H429.30M423.00 506.40H429.30M442.00 561.20H636.30M442.80 561.20V567.20M507.03 561.20V567.20M571.27 561.20V567.20M635.50 561.20V567.20"/>
<path class="d" d="M432.30 468.07H632.90"/>
<path class="d" d="M432.30 506.40H632.90"/>
<text class="tk" text-anchor="end" x="421.70" y="427.10">20</text>
<text class="tk" text-anchor="end" x="421.70" y="468.40">10</text>
<text class="tk" text-anchor="end" x="421.70" y="509.70">0</text>
<text class="tk" text-anchor="end" x="421.70" y="551.00">-10</text>
<text class="tx" text-anchor="middle" transform="translate(442.80 578.70) scale(.92 1)">0</text>
<text class="tx" text-anchor="middle" transform="translate(507.03 578.70) scale(.92 1)">50</text>
<text class="tx" text-anchor="middle" transform="translate(571.27 578.70) scale(.92 1)">100</text>
<text class="tx" text-anchor="middle" transform="translate(635.50 578.70) scale(.92 1)">150</text>
<text class="ay" text-anchor="middle" transform="translate(401.00 485.85) rotate(-90)"><tspan font-weight="normal">Δ</tspan> DLCO (%predicted)</text>
<text class="ax" text-anchor="middle" x="540.00" y="595.80">Mean DLCO (% predicted)</text>
<text class="i" x="442.00" y="441.10" textLength="48.2" lengthAdjust="spacingAndGlyphs">ICC = 0.990</text>
<text class="g" x="446.00" y="548.40" textLength="66" lengthAdjust="spacingAndGlyphs">GLI2017-ECSC</text>
<path d="M465.1 502.0h0M475.5 501.6h0M483.7 499.3h0M486.8 499.7h0M489.9 500.0h0M492.3 502.4h0M491.5 503.9h0M493.8 498.5h0M496.1 496.9h0M497.7 500.0h0M500.0 497.7h0M501.6 495.7h0M503.9 497.7h0M506.2 499.3h0M505.5 495.1h0M507.0 491.5h0M506.2 506.6h0M509.3 496.1h0M511.7 494.6h0M512.5 497.7h0M514.8 496.1h0M516.3 493.8h0M517.9 496.6h0M520.2 495.1h0M521.0 492.3h0M523.3 493.8h0M525.7 496.1h0M525.7 492.0h0M528.0 493.0h0M528.8 489.9h0M528.0 487.3h0M531.1 490.7h0M532.6 488.4h0M534.2 485.3h0M534.2 481.7h0M535.0 491.5h0M537.3 492.3h0M536.5 489.2h0M538.9 487.6h0M541.2 486.8h0M543.5 486.1h0M542.0 489.9h0M544.3 492.3h0M547.4 494.6h0M545.8 489.2h0M538.9 497.2h0M534.7 502.7h0M541.6 460.9h0M542.7 462.5h0M540.7 473.9h0M545.1 475.2h0M551.3 470.2h0M548.2 478.3h0M548.9 482.2h0M548.2 486.1h0M550.5 488.4h0M551.3 475.2h0M552.8 479.8h0M553.6 484.5h0M554.4 489.2h0M552.0 491.5h0M558.3 452.1h0M561.4 454.8h0M564.2 457.1h0M566.8 459.4h0M576.1 455.1h0M590.6 450.9h0M588.1 455.8h0M599.0 457.4h0M603.8 456.6h0M617.6 459.9h0M562.6 465.6h0M559.8 468.3h0M550.5 473.4h0M566.8 468.7h0M570.7 469.5h0M571.0 472.3h0M576.9 473.9h0M585.8 472.6h0M598.7 471.8h0M604.1 468.7h0M610.8 469.5h0M615.0 476.0h0M608.4 478.5h0M610.8 481.1h0M621.2 487.4h0M559.8 474.9h0M562.2 478.0h0M565.3 476.5h0M568.4 477.3h0M553.6 477.3h0M550.5 479.6h0M554.4 481.1h0M592.5 474.2h0M594.8 476.5h0M597.1 478.8h0M598.7 481.9h0M597.9 485.0h0M588.6 478.0h0M590.9 480.4h0M591.7 485.8h0M583.1 477.3h0M584.7 481.1h0M587.0 483.5h0M583.1 485.0h0M572.3 478.8h0M575.4 479.6h0M578.5 481.1h0M580.8 482.7h0M535.8 485.8h0M538.1 490.5h0M542.0 485.0h0M546.6 484.3h0M551.3 483.5h0M556.0 482.7h0M558.3 484.3h0M560.6 481.9h0M563.0 483.5h0M565.3 481.1h0M567.6 482.7h0M569.9 481.1h0M573.0 482.7h0M547.4 489.7h0M556.7 487.4h0M559.8 487.4h0M563.0 487.4h0M566.1 486.6h0M569.2 485.8h0M572.3 485.8h0M575.4 485.0h0M578.5 485.0h0M543.5 494.3h0M555.2 492.0h0M559.1 494.3h0M566.1 490.5h0M570.7 492.8h0M576.1 488.9h0M580.0 489.7h0M489.3 501.9h0M490.6 502.4h0M495.5 498.4h0M498.0 497.0h0M498.3 498.6h0M500.2 496.1h0M500.9 494.1h0M504.5 499.1h0M506.2 497.5h0M506.8 494.2h0M508.4 494.4h0M512.4 496.4h0M513.3 496.3h0M513.1 495.3h0M515.9 495.8h0M519.3 497.8h0M518.5 495.1h0M520.2 493.7h0M521.8 493.4h0M526.0 494.1h0M524.6 490.6h0M529.5 492.6h0M530.6 490.6h0M526.7 488.5h0M532.6 491.0h0M533.4 490.0h0M535.1 483.7h0M535.5 490.0h0M537.0 490.6h0M538.2 489.9h0M540.6 487.3h0M543.1 486.9h0M545.3 485.7h0M540.3 489.5h0M542.6 493.1h0M546.0 495.3h0M546.5 490.8h0M547.3 479.8h0M549.9 483.5h0M546.7 485.5h0M549.6 490.1h0M551.1 476.8h0M551.1 480.3h0M554.0 482.6h0M556.0 489.5h0M552.5 493.2h0M548.9 472.4h0M561.9 476.4h0M563.9 475.7h0M568.7 479.3h0M553.6 479.0h0M549.5 478.2h0M555.9 480.3h0M589.7 479.2h0M588.9 480.4h0M581.7 476.6h0M583.1 481.5h0M586.7 482.0h0M585.0 484.5h0M571.9 480.5h0M573.7 480.1h0M577.0 480.3h0M579.1 482.6h0M536.3 484.3h0M538.9 492.0h0M543.7 485.6h0M547.2 482.4h0M552.9 484.1h0M554.8 483.9h0M556.6 484.3h0M560.7 480.4h0M562.1 482.2h0M564.2 482.3h0M566.8 484.3h0M568.3 481.4h0M574.4 481.7h0M545.8 490.4h0M555.3 486.7h0M561.0 486.1h0M562.8 485.8h0M564.6 487.6h0M570.9 486.0h0M570.8 486.1h0M574.7 486.7h0M579.2 486.7h0M542.4 495.5h0M554.0 493.0h0M567.4 489.2h0M576.3 487.4h0" stroke="#000" stroke-width="4.75" stroke-linecap="round" fill="none"/>
</g>
<g>
<path class="l" d="M429.30 623.70V748.50M423.00 624.50H429.30M423.00 665.57H429.30M423.00 706.63H429.30M423.00 747.70H429.30M423.00 727.86H429.30M442.50 761.80H636.00M443.30 761.80V767.80M500.03 761.80V767.80M556.77 761.80V767.80M613.50 761.80V767.80"/>
<path class="d" d="M432.30 688.97H632.90"/>
<path class="d" d="M432.30 727.86H632.90"/>
<text class="tk" text-anchor="end" x="421.70" y="628.30">20</text>
<text class="tk" text-anchor="end" x="421.70" y="669.37">10</text>
<text class="tk" text-anchor="end" x="421.70" y="710.43">0</text>
<text class="tk" text-anchor="end" x="421.70" y="751.50">-10</text>
<text class="tx" text-anchor="middle" transform="translate(443.30 779.30) scale(.92 1)">0</text>
<text class="tx" text-anchor="middle" transform="translate(500.03 779.30) scale(.92 1)">50</text>
<text class="tx" text-anchor="middle" transform="translate(556.77 779.30) scale(.92 1)">100</text>
<text class="tx" text-anchor="middle" transform="translate(613.50 779.30) scale(.92 1)">150</text>
<text class="ay" text-anchor="middle" transform="translate(401.00 686.70) rotate(-90)"><tspan font-weight="normal">Δ</tspan> TLC (%predicted)</text>
<text class="ax" text-anchor="middle" x="540.00" y="796.40">Mean TLC (% predicted)</text>
<text class="i" x="440.90" y="644.70" textLength="48.2" lengthAdjust="spacingAndGlyphs">ICC = 0.997</text>
<text class="g" x="446.00" y="748.90" textLength="66" lengthAdjust="spacingAndGlyphs">GLI2021-ECSC</text>
<path d="M485.1 709.7h0M491.8 710.5h0M497.2 703.2h0M498.3 706.6h0M499.1 710.5h0M499.8 713.1h0M503.7 704.3h0M503.7 708.1h0M504.5 712.0h0M508.4 701.9h0M508.4 705.8h0M509.2 709.7h0M509.9 713.6h0M513.0 705.0h0M513.0 708.9h0M513.8 712.8h0M513.0 715.1h0M517.7 706.6h0M517.7 710.5h0M518.5 714.3h0M518.0 721.0h0M521.6 705.8h0M522.4 709.7h0M522.4 713.6h0M526.2 704.3h0M527.0 708.1h0M527.0 712.0h0M527.0 715.9h0M525.5 718.2h0M527.3 696.0h0M530.9 704.3h0M531.7 708.1h0M531.7 712.0h0M531.7 715.9h0M530.1 718.2h0M535.6 702.7h0M536.3 706.6h0M536.3 710.5h0M536.3 714.3h0M535.9 692.6h0M537.9 686.7h0M539.4 690.3h0M541.0 694.5h0M535.9 671.6h0M541.5 677.1h0M541.5 679.4h0M545.3 669.0h0M548.3 672.1h0M555.0 669.3h0M563.5 667.0h0M566.9 672.7h0M561.6 679.4h0M560.1 681.4h0M566.6 678.3h0M545.7 684.8h0M546.7 688.3h0M549.2 690.3h0M551.1 691.8h0M551.4 684.8h0M556.8 684.8h0M559.6 688.7h0M563.2 692.6h0M546.1 695.4h0M542.1 698.8h0M556.8 694.9h0M553.7 698.8h0M550.8 701.1h0M562.0 697.3h0M561.5 700.1h0M572.8 690.3h0M574.4 698.8h0M566.3 701.1h0M570.0 703.5h0M540.2 703.5h0M541.0 707.4h0M541.0 711.2h0M541.0 715.1h0M543.3 718.2h0M544.9 702.7h0M545.7 706.6h0M545.7 710.5h0M545.7 714.3h0M548.0 719.8h0M549.5 704.3h0M550.3 708.1h0M550.3 712.0h0M550.3 715.9h0M552.6 719.8h0M554.2 703.5h0M555.0 707.4h0M555.0 711.2h0M555.0 715.1h0M556.5 719.0h0M558.1 722.1h0M558.9 702.7h0M559.6 706.6h0M559.6 710.5h0M559.6 714.3h0M561.2 718.2h0M562.7 722.1h0M563.5 704.3h0M564.3 708.1h0M564.3 712.0h0M564.3 715.9h0M565.8 719.8h0M568.2 706.6h0M568.9 710.5h0M568.9 714.3h0M570.5 718.2h0M572.8 705.8h0M573.6 709.7h0M573.6 713.6h0M574.4 717.5h0M577.1 678.9h0M584.7 696.0h0M585.9 702.2h0M572.7 699.1h0M579.7 700.6h0M619.8 704.5h0M609.8 713.8h0M597.9 709.9h0M590.0 712.6h0M578.9 709.9h0M582.8 712.3h0M585.1 714.1h0M584.4 719.7h0M587.8 721.3h0M589.0 724.4h0M593.7 726.6h0M572.7 720.3h0M575.8 719.3h0M617.4 732.8h0M584.7 731.7h0M583.6 734.3h0M584.1 735.9h0M570.7 731.7h0M566.2 729.0h0M557.2 728.6h0M564.2 724.7h0M545.6 704.5h0M557.2 703.7h0M561.1 704.5h0M572.7 703.7h0M575.8 705.3h0M545.6 708.4h0M553.3 708.4h0M557.2 707.6h0M561.1 708.4h0M568.8 708.4h0M572.7 707.6h0M545.6 712.3h0M553.3 712.3h0M557.2 711.5h0M561.1 712.3h0M568.8 712.3h0M572.7 711.5h0M576.6 713.0h0M545.6 716.1h0M553.3 716.1h0M557.2 715.4h0M561.1 716.1h0M568.8 716.1h0M572.7 715.4h0M579.7 715.4h0M551.0 719.3h0M554.9 720.0h0M558.8 719.3h0M548.7 721.6h0M552.5 721.6h0M500.4 706.3h0M499.6 708.6h0M503.0 702.9h0M503.9 706.4h0M504.6 710.5h0M509.3 707.3h0M507.0 710.1h0M511.0 711.7h0M511.6 706.4h0M512.8 707.2h0M515.3 711.6h0M515.8 706.9h0M519.5 710.7h0M517.6 715.6h0M520.1 706.4h0M524.2 709.6h0M521.2 714.5h0M528.9 708.1h0M528.8 711.3h0M527.1 714.4h0M530.4 706.3h0M533.3 708.2h0M530.2 712.6h0M531.9 714.2h0M534.4 706.8h0M537.7 711.2h0M534.8 713.6h0M540.9 696.1h0M545.9 689.8h0M549.4 692.1h0M549.5 685.0h0M543.1 700.6h0M563.8 696.8h0M560.2 698.4h0M567.3 699.3h0M571.4 705.1h0M539.3 704.9h0M542.3 706.4h0M542.6 710.3h0M542.8 713.9h0M543.2 720.1h0M543.3 703.1h0M547.6 705.6h0M543.9 711.0h0M547.2 714.7h0M549.1 718.7h0M550.7 705.7h0M552.3 708.2h0M549.9 713.5h0M548.4 715.3h0M551.0 720.1h0M552.1 703.8h0M555.7 706.0h0M555.9 712.7h0M553.5 716.0h0M555.6 717.2h0M559.1 723.6h0M557.8 701.7h0M558.1 705.8h0M560.6 712.0h0M557.5 714.8h0M562.4 716.9h0M563.5 723.5h0M565.0 704.5h0M565.2 709.6h0M566.1 711.8h0M564.9 714.4h0M567.2 719.1h0M567.3 704.9h0M567.3 710.3h0M567.0 714.7h0M571.9 719.9h0M574.3 705.2h0M571.6 710.2h0M571.8 713.5h0M574.1 715.6h0M577.3 711.3h0M583.6 715.1h0M571.7 721.8h0M577.5 719.5h0M544.8 706.2h0M555.9 705.2h0M559.7 705.4h0M571.4 705.1h0M574.1 705.0h0M543.9 709.3h0M552.9 710.5h0M555.7 709.0h0M559.9 707.3h0M570.4 707.5h0M573.1 706.0h0M547.2 712.3h0M551.8 711.6h0M558.4 713.3h0M562.9 713.5h0M566.9 712.3h0M573.8 712.9h0M577.5 714.4h0M547.1 716.5h0M555.0 715.7h0M557.9 716.8h0M563.0 715.4h0M570.8 716.2h0M571.2 714.4h0M579.9 713.4h0M551.9 721.1h0M553.2 721.0h0M557.5 721.0h0M550.1 720.4h0M550.5 722.3h0" stroke="#000" stroke-width="4.75" stroke-linecap="round" fill="none"/>
</g>
<g>
<path class="l" d="M425.90 828.80V953.00M419.60 840.30H425.90M419.60 885.55H425.90M419.60 930.80H425.90M419.60 944.83H425.90M438.50 968.00H633.10M439.30 968.00V973.20M487.55 968.00V973.20M535.80 968.00V973.20M584.05 968.00V973.20M632.30 968.00V973.20"/>
<path class="d" d="M428.90 862.25H632.90"/>
<path class="d" d="M428.90 944.83H632.90"/>
<text class="tk" text-anchor="end" x="418.30" y="844.10">40</text>
<text class="tk" text-anchor="end" x="418.30" y="889.35">20</text>
<text class="tk" text-anchor="end" x="418.30" y="934.60">0</text>
<text class="tx" text-anchor="middle" transform="translate(439.30 983.60) scale(.92 1)">0</text>
<text class="tx" text-anchor="middle" transform="translate(487.55 983.60) scale(.92 1)">100</text>
<text class="tx" text-anchor="middle" transform="translate(535.80 983.60) scale(.92 1)">200</text>
<text class="tx" text-anchor="middle" transform="translate(584.05 983.60) scale(.92 1)">300</text>
<text class="tx" text-anchor="middle" transform="translate(632.30 983.60) scale(.92 1)">400</text>
<text class="ay" text-anchor="middle" transform="translate(399.90 891.50) rotate(-90)"><tspan font-weight="normal">Δ</tspan> RV (%predicted)</text>
<text class="ax" text-anchor="middle" x="536.30" y="1000.50">Mean RV (% predicted)</text>
<text class="i" x="435.30" y="848.20" textLength="48.2" lengthAdjust="spacingAndGlyphs">ICC = 0.966</text>
<text class="g" x="442.50" y="962.70" textLength="66" lengthAdjust="spacingAndGlyphs">GLI2021-ECSC</text>
<path d="M450.1 926.6h0M454.8 930.8h0M457.9 931.3h0M459.9 935.9h0M471.8 939.7h0M476.0 938.6h0M497.0 938.6h0M470.0 885.5h0M484.3 888.9h0M481.9 892.8h0M479.6 896.6h0M477.3 900.5h0M474.9 904.4h0M471.1 906.7h0M466.4 909.1h0M463.3 913.0h0M460.2 916.8h0M458.3 920.7h0M457.9 925.1h0M488.1 887.3h0M492.0 886.6h0M495.9 887.3h0M499.8 886.6h0M503.7 887.3h0M507.5 888.1h0M511.4 885.8h0M486.6 892.0h0M490.5 891.2h0M494.3 892.0h0M498.2 891.2h0M502.1 892.0h0M506.0 891.2h0M508.3 889.7h0M484.3 896.6h0M488.1 895.9h0M492.0 896.6h0M495.9 895.9h0M499.8 896.6h0M503.7 895.9h0M506.8 893.5h0M481.1 900.5h0M485.0 900.5h0M488.9 900.5h0M492.8 900.5h0M496.7 901.3h0M499.0 899.8h0M478.8 904.4h0M482.7 904.4h0M486.6 904.4h0M490.5 904.4h0M493.6 905.2h0M498.2 906.0h0M474.9 908.3h0M478.8 908.3h0M482.7 908.3h0M486.6 908.3h0M490.5 908.3h0M494.3 909.1h0M498.2 909.8h0M502.1 906.0h0M505.2 907.5h0M506.8 909.8h0M470.3 911.4h0M474.2 912.2h0M478.0 912.2h0M481.9 912.2h0M485.8 912.2h0M489.7 912.2h0M493.6 913.0h0M499.8 913.0h0M467.2 915.3h0M471.1 916.1h0M474.9 916.1h0M478.8 916.1h0M482.7 916.1h0M486.6 916.1h0M490.5 916.1h0M494.3 916.8h0M498.2 915.3h0M502.9 914.5h0M506.0 916.1h0M463.3 918.4h0M467.2 919.9h0M471.1 919.9h0M474.9 919.9h0M478.8 919.9h0M482.7 919.9h0M486.6 919.9h0M490.5 919.9h0M495.1 919.9h0M502.1 918.4h0M461.7 922.3h0M465.6 923.8h0M469.5 923.8h0M473.4 923.8h0M477.3 923.8h0M481.1 923.8h0M485.0 923.0h0M489.7 923.8h0M498.2 922.3h0M461.0 926.9h0M464.8 927.7h0M468.7 927.7h0M472.6 927.7h0M476.5 927.7h0M480.4 928.5h0M488.1 926.9h0M464.1 930.8h0M471.1 931.6h0M481.1 930.0h0M473.4 933.9h0M470.3 933.1h0M498.7 927.7h0M500.6 929.3h0M498.2 931.6h0M509.6 922.3h0M515.6 928.2h0M517.2 919.5h0M523.1 923.5h0M513.0 909.8h0M516.9 911.4h0M513.0 903.9h0M518.9 903.9h0M510.7 898.7h0M517.2 899.3h0M511.9 893.5h0M515.0 895.6h0M529.8 903.3h0M539.4 919.9h0M520.0 887.3h0M516.1 885.8h0M513.9 835.0h0M510.8 840.7h0M510.4 845.9h0M506.8 849.0h0M499.0 841.7h0M524.0 834.2h0M528.2 838.6h0M523.3 840.7h0M496.7 856.7h0M510.7 857.5h0M504.5 862.5h0M498.7 862.9h0M514.3 864.0h0M514.7 866.5h0M513.9 868.7h0M500.3 866.8h0M498.0 869.1h0M506.5 869.1h0M506.5 872.3h0M494.1 873.8h0M497.2 877.7h0M493.3 878.5h0M505.7 874.6h0M504.9 877.7h0M512.7 876.9h0M484.3 878.9h0M486.6 880.0h0M534.4 873.8h0M541.4 871.9h0M542.7 876.9h0M531.0 878.9h0M531.0 882.7h0M569.4 874.3h0M489.4 885.5h0M493.3 882.3h0M497.2 882.3h0M501.1 881.6h0M504.9 881.6h0M508.8 880.8h0M512.7 880.8h0M516.6 882.3h0M520.9 883.1h0M503.4 885.5h0M503.4 889.3h0M508.0 891.7h0M511.1 891.7h0M589.9 880.2h0M479.9 894.6h0M480.0 899.3h0M477.4 903.0h0M473.4 906.2h0M471.5 904.3h0M461.8 913.5h0M458.7 916.6h0M459.7 918.1h0M485.8 887.5h0M492.9 888.9h0M498.6 886.8h0M497.8 886.9h0M506.5 887.3h0M509.2 889.1h0M509.0 886.8h0M487.7 894.1h0M489.1 890.3h0M492.4 892.5h0M499.8 890.2h0M503.5 890.8h0M503.9 893.1h0M507.9 887.2h0M483.1 894.5h0M486.5 895.4h0M493.0 894.4h0M494.2 896.0h0M501.3 899.1h0M503.4 898.1h0M506.8 896.3h0M479.3 901.3h0M487.8 901.5h0M487.8 898.0h0M492.4 898.9h0M498.1 900.6h0M477.3 906.5h0M483.6 903.1h0M484.1 905.9h0M488.2 904.4h0M491.6 906.3h0M497.1 904.5h0M476.4 910.0h0M480.3 907.1h0M482.4 905.8h0M486.4 910.0h0M490.6 906.8h0M491.5 908.5h0M499.2 908.4h0M472.2 910.9h0M476.1 910.1h0M476.1 913.7h0M482.6 914.5h0M486.1 910.0h0M488.7 909.9h0M495.7 912.1h0M502.1 912.5h0M466.0 912.6h0M472.4 914.1h0M476.6 914.6h0M481.2 916.3h0M482.2 918.7h0M488.0 918.1h0M492.1 916.8h0M495.0 918.8h0M496.9 914.3h0M505.4 914.2h0M462.1 919.5h0M468.7 918.8h0M468.8 919.7h0M476.0 922.1h0M480.5 921.0h0M484.2 918.8h0M486.4 917.9h0M488.2 920.1h0M495.2 922.9h0M503.0 919.9h0M459.1 923.4h0M466.9 922.0h0M467.6 923.9h0M472.2 921.1h0M478.4 925.7h0M483.4 925.5h0M483.2 923.3h0M491.2 922.3h0M461.5 928.9h0M464.3 925.4h0M465.9 926.9h0M474.2 930.0h0M476.5 925.2h0M480.9 930.5h0M469.2 933.9h0M468.2 932.2h0M510.3 893.1h0M515.8 897.8h0M514.9 887.2h0M498.7 878.1h0M490.8 879.7h0M503.8 875.5h0M488.6 882.7h0M492.7 884.0h0M498.6 880.2h0M498.5 883.0h0M502.3 881.9h0M507.5 879.0h0M514.3 883.3h0M505.0 886.1h0M501.5 889.2h0M510.0 890.9h0M512.2 890.5h0" stroke="#000" stroke-width="4.75" stroke-linecap="round" fill="none"/>
</g>
</svg></body></html>
